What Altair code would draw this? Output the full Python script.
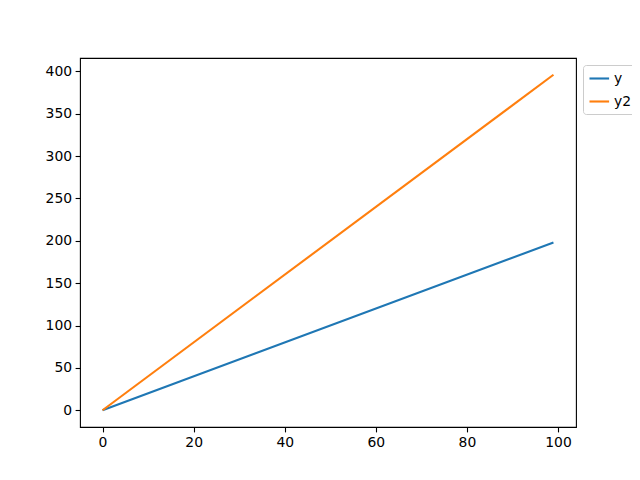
import altair as alt
import pandas as pd

# Data (straight lines; endpoints)
x_vals = [0, 99]
y_vals = [0, 198]
y2_vals = [0, 396]
series_names = ["y", "y2"]
series_colors = ["#1f77b4", "#ff7f0e"]
x_ticks = [0, 20, 40, 60, 80, 100]
y_ticks = [0, 50, 100, 150, 200, 250, 300, 350, 400]

rows = []
for xv, yv in zip(x_vals, y_vals):
    rows.append({"x": xv, "value": yv, "series": series_names[0]})
for xv, yv in zip(x_vals, y2_vals):
    rows.append({"x": xv, "value": yv, "series": series_names[1]})
df = pd.DataFrame(rows)

font = "DejaVu Sans"

axis_style = dict(title=None, grid=False, labelFlush=False, format="d", domain=False,
                  tickColor="black", tickSize=4.9, tickWidth=1.1,
                  labelColor="black", labelFont=font, labelFontSize=13.9, labelPadding=3.5)

chart = alt.Chart(df).mark_line(strokeWidth=2.1, clip=True).encode(
    x=alt.X("x:Q",
            scale=alt.Scale(domain=[-4.95, 103.95], nice=False, zero=False),
            axis=alt.Axis(values=x_ticks, **axis_style)),
    y=alt.Y("value:Q",
            scale=alt.Scale(domain=[-19.8, 415.8], nice=False, zero=False),
            axis=alt.Axis(values=y_ticks, **axis_style)),
    color=alt.Color("series:N",
                    scale=alt.Scale(domain=series_names, range=series_colors),
                    legend=alt.Legend(title=None, orient="none", legendX=503, legendY=7,
                                      symbolType="M-1,0H1.8", symbolSize=196,
                                      symbolStrokeWidth=2.1, labelFontSize=13.9,
                                      labelFont=font, labelColor="black",
                                      strokeColor="#cccccc", fillColor="white",
                                      cornerRadius=3, padding=5, rowPadding=7,
                                      labelOffset=9)),
    detail="series:N",
).properties(
    width=496,
    height=369,
    background="white",
    padding={"left": 72, "top": 50, "right": 56, "bottom": 45},
    autosize=alt.AutoSizeParams(type="none"),
).configure_view(
    stroke="black", strokeWidth=1.1
)

chart.save("out.html", embed_options={"renderer": "svg", "actions": False})
